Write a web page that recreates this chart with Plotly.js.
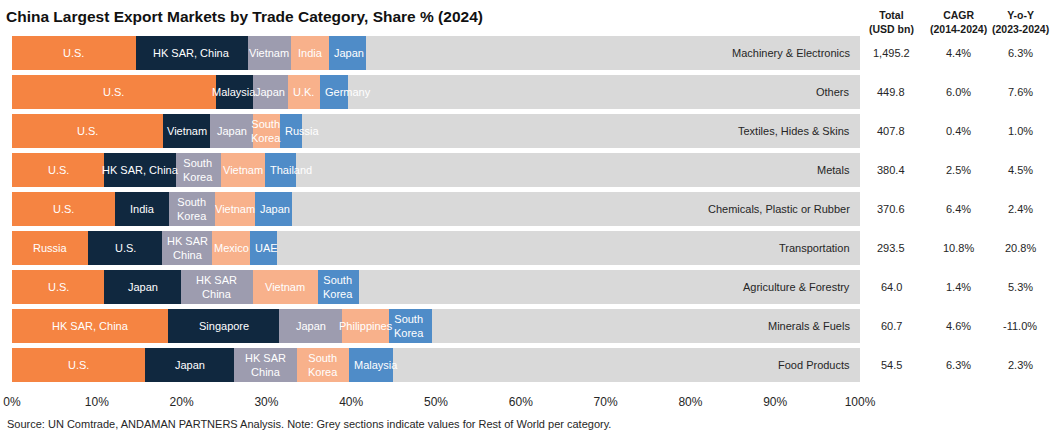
<!DOCTYPE html>
<html>
<head>
<meta charset="utf-8">
<script src="https://cdn.plot.ly/plotly-3.0.1.min.js"></script>
<style>html,body{margin:0;padding:0;background:#fff;}#chart{width:1055px;height:435px;}</style>
</head>
<body>
<div id="chart"></div>
<script>
const categories = ["Machinery & Electronics","Others","Textiles, Hides & Skins","Metals","Chemicals, Plastic or Rubber","Transportation","Agriculture & Forestry","Minerals & Fuels","Food Products"];

const rank1Names = ["U.S.","U.S.","U.S.","U.S.","U.S.","Russia","U.S.","HK SAR, China","U.S."];
const rank1Share = [14.6, 24.0, 17.8, 10.9, 12.2, 9.0, 10.9, 18.4, 15.7];
const rank2Names = ["HK SAR, China","Malaysia","Vietnam","HK SAR, China","India","U.S.","Japan","Singapore","Japan"];
const rank2Share = [13.2, 4.4, 5.6, 8.4, 6.3, 8.7, 9.0, 13.1, 10.5];
const rank3Names = ["Vietnam","Japan","Japan","South<br>Korea","South<br>Korea","HK SAR<br>China","HK SAR<br>China","Japan","HK SAR<br>China"];
const rank3Share = [5.1, 4.1, 5.0, 5.3, 5.4, 5.9, 8.5, 7.4, 7.4];
const rank4Names = ["India","U.K.","South<br>Korea","Vietnam","Vietnam","Mexico","Vietnam","Philippines","South<br>Korea"];
const rank4Share = [4.5, 3.8, 3.2, 5.2, 4.7, 4.5, 7.7, 5.6, 6.1];
const rank5Names = ["Japan","Germany","Russia","Thailand","Japan","UAE","South<br>Korea","South<br>Korea","Malaysia"];
const rank5Share = [4.3, 3.3, 2.6, 3.7, 4.4, 3.2, 4.8, 5.0, 5.2];
const restShare = [58.3, 60.4, 65.8, 66.5, 67.0, 68.7, 59.1, 50.5, 55.1];

const totalUsdBn = [1495.2, 449.8, 407.8, 380.4, 370.6, 293.5, 64.0, 60.7, 54.5];
const cagr = [4.4, 6.0, 0.4, 2.5, 6.4, 10.8, 1.4, 4.6, 6.3];
const yoy = [6.3, 7.6, 1.0, 4.5, 2.4, 20.8, 5.3, -11.0, 2.3];

const tickVals = [0,10,20,30,40,50,60,70,80,90,100];
const tickText = ["0%","10%","20%","30%","40%","50%","60%","70%","80%","90%","100%"];

const FONT = "'Liberation Sans', Arial, sans-serif";
const colors = ["#F58442", "#10283F", "#9D9CAF", "#F8B18B", "#4F8CC8", "#D9D9D9"];

const shares = [rank1Share, rank2Share, rank3Share, rank4Share, rank5Share, restShare];
const names = [rank1Names, rank2Names, rank3Names, rank4Names, rank5Names];

const traces = shares.map((s, i) => ({
  type: "bar", orientation: "h", x: s, y: categories,
  marker: {color: colors[i], line: {width: 0}},
  hoverinfo: "skip", showlegend: false
}));

const annotations = [];
categories.forEach((cat, r) => {
  let cum = 0;
  for (let k = 0; k < 5; k++) {
    const v = shares[k][r];
    const last = (k === 4);
    annotations.push({
      x: last ? cum : cum + v / 2, y: cat, xref: "x", yref: "y",
      xanchor: last ? "left" : "center", xshift: last ? 3 : 0, yanchor: "middle", align: "center",
      text: names[k][r], showarrow: false,
      font: {family: FONT, size: 11, color: "#ffffff"}
    });
    cum += v;
  }
  annotations.push({
    x: 1, xref: "paper", y: cat, yref: "y", xanchor: "right", yanchor: "middle", xshift: -8,
    text: cat, showarrow: false, font: {family: FONT, size: 11, color: "#262626"}
  });
});

const px2paper = p => (p - 12) / 847;
const colX = [px2paper(890), px2paper(957), px2paper(1019)];
const fmtTotal = v => v.toLocaleString("en-US", {minimumFractionDigits: 1, maximumFractionDigits: 1});
const fmtPct = v => v.toFixed(1) + "%";
categories.forEach((cat, r) => {
  [fmtTotal(totalUsdBn[r]), fmtPct(cagr[r]), fmtPct(yoy[r])].forEach((t, c) => {
    annotations.push({
      x: colX[c], xref: "paper", y: cat, yref: "y", xanchor: "center", yanchor: "middle",
      text: t, showarrow: false,
      font: {family: FONT, size: 11, color: "#262626"}
    });
  });
});
const headers = ["<b>Total</b><br><b>(USD bn)</b>", "<b>CAGR</b><br><b>(2014-2024)</b>", "<b>Y-o-Y</b><br><b>(2023-2024)</b>"];
const y2paper = p => 1 - (p - 33) / 352;
headers.forEach((h, c) => {
  annotations.push({
    x: colX[c], xref: "paper", y: y2paper(22), yref: "paper", xanchor: "center", yanchor: "middle",
    text: h, showarrow: false, font: {family: FONT, size: 10.5, color: "#1a1a1a"}
  });
});
annotations.push({
  x: px2paper(5), xref: "paper", y: y2paper(424), yref: "paper",
  xanchor: "left", yanchor: "middle", showarrow: false,
  text: "Source: UN Comtrade, ANDAMAN PARTNERS Analysis. Note: Grey sections indicate values for Rest of World per category.",
  font: {family: FONT, size: 11, color: "#262626"}
});

const layout = {
  width: 1055, height: 435,
  margin: {l: 12, r: 195, t: 33, b: 50, pad: 0},
  barmode: "stack", bargap: 0.13,
  paper_bgcolor: "#ffffff", plot_bgcolor: "#ffffff",
  font: {family: FONT, size: 11, color: "#262626"},
  title: {
    text: "<b>China Largest Export Markets by Trade Category, Share % (2024)</b>",
    x: 6 / 1055, xanchor: "left", xref: "container",
    y: 1 - 17 / 435, yanchor: "middle", yref: "container",
    font: {family: FONT, size: 15.5, color: "#111111"}
  },
  xaxis: {
    range: [0, 100], tickvals: tickVals, ticktext: tickText,
    showgrid: false, zeroline: false, showline: false, ticks: "",
    ticklabelstandoff: 8,
    tickfont: {family: FONT, size: 12, color: "#262626"}, fixedrange: true
  },
  yaxis: {
    categoryorder: "array", categoryarray: categories, autorange: "reversed",
    showticklabels: false, showgrid: false, zeroline: false, showline: false, ticks: "",
    fixedrange: true
  },
  annotations: annotations
};

Plotly.newPlot("chart", traces, layout, {displayModeBar: false, staticPlot: true});
</script>
</body>
</html>
